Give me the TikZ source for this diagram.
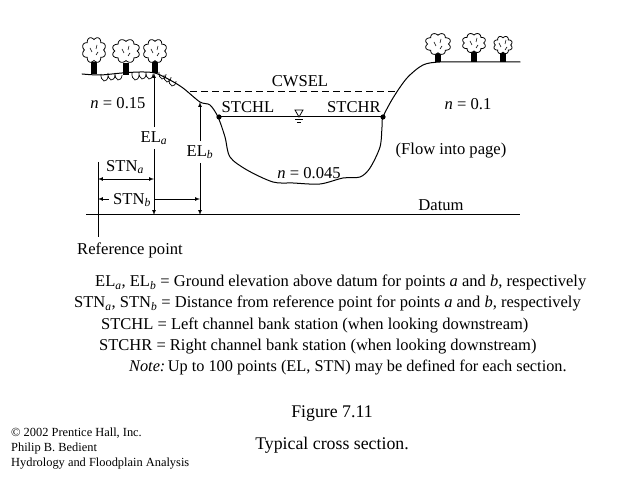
\documentclass[tikz,border=0pt]{standalone}
\usepackage{fontspec}
\setmainfont{Liberation Serif}
\usetikzlibrary{arrows}
\newcommand{\subit}[1]{\textsubscript{\textit{#1}}}
\tikzset{
    ground/.style={draw=black, line width=1pt, line cap=round},
    dimline/.style={draw=black, line width=0.7pt, -latex},
    crown/.style={draw=black, line width=0.8pt, fill=white},
    trunk/.style={fill=black},
    label/.style={inner sep=0pt, font=\fontsize{16.6}{18}\selectfont},
    dimlabel/.style={label, inner xsep=4pt, inner ysep=4pt},
    eqline/.style={inner sep=0pt, anchor=base west, font=\fontsize{16.5}{18}\selectfont},
    credit/.style={inner sep=0pt, anchor=base west, font=\fontsize{12.4}{14}\selectfont},
    caption/.style={inner sep=0pt, font=\fontsize{17.8}{20}\selectfont},
}
\begin{document}
\begin{tikzpicture}[x=1pt, y=-1pt]
	\useasboundingbox (0,0) rectangle (638,478);
	% ground line
	\draw[ground] plot[smooth, tension=.5] coordinates {(82,74) (100,75) (122,73) (140,72) (155,73)
		(170,80) (183,88) (200,102) (210,105) (218,117) (225,137) (230,157) (247,170) (273,182)
		(293,183) (320,184) (343,178) (360,177) (370,168) (380,147) (382,127) (383,117) (393,98)
		(407,78) (423,65) (440,62) (473,62) (520,62)};
	% trees on both banks
	\foreach \x/\y/\w/\h/\t/\l in {94/50/12/13/62/12, 126/51/14/12/63/12, 155/51/12/12/61/12, 438/44/13/11/53/9, 474/43/12/10/51/11, 503/45/9.5/9/52/10}{
		\fill[trunk] (\x-3,\t) rectangle (\x+3,\t+\l);
		\draw[crown] plot[domain=0:360, samples=145, variable=\a]
			({\x+\w*(.8+.2*abs(sin(4*\a)))*cos(\a)},{\y+\h*(.8+.2*abs(sin(4*\a)))*sin(\a)}) -- cycle;
		\draw[line width=.6pt] (\x-4,\y-2) -- (\x-2,\y+2) (\x+3,\y-5) -- (\x+2,\y-1) (\x+4,\y+2) -- (\x+2,\y+5);
	}
	% bushes under the left trees
	\foreach \x/\y in {101/74, 108/73, 115/73, 132/73, 139/72, 146/72, 159/72, 164/75, 169/79}{
		\draw[line width=.7pt] (\x,\y) arc (190:10:3.6 and 6);
	}
	% water levels
	\coordinate (cwl) at (190,91);
	\coordinate (cwr) at (398,91);
	\coordinate (bankl) at (219,117);
	\coordinate (bankr) at (383,117);
	\draw[line width=.9pt, dash pattern=on 7pt off 4pt] (cwl) -- (cwr);
	\draw[line width=1pt] (bankl) -- (bankr);
	\fill (bankl) circle (2.6);
	\fill (bankr) circle (2.6);
	\draw[line width=.8pt, fill=white] (295,110) -- (303,110) -- (299,117) -- cycle;
	\draw[line width=.8pt] (295,119.5) -- (303,119.5) (297,122) -- (301,122);
	% datum and reference point
	\coordinate (datl) at (86,215);
	\coordinate (datr) at (520,215);
	\coordinate (reftop) at (98,162);
	\coordinate (refbot) at (98,237);
	\draw[line width=1pt] (datl) -- (datr);
	\draw[line width=.8pt] (reftop) -- (refbot);
	% labels
	\node[label] (cwsel) at (300,81) {CWSEL};
	\node[label] (stchl) at (248,107) {STCHL};
	\node[label] (stchr) at (354,107) {STCHR};
	\node[label] (nleft) at (118,103) {\textit{n} = 0.15};
	\node[label] (nright) at (468,104) {\textit{n} = 0.1};
	\node[label] (nmid) at (309,173) {\textit{n} = 0.045};
	\node[dimlabel] (ela) at (154,138) {EL\subit{a}};
	\node[dimlabel] (elb) at (200,152) {EL\subit{b}};
	\node[label] (stna) at (125,167) {STN\subit{a}};
	\node[dimlabel] (stnb) at (132,200) {STN\subit{b}};
	\node[label] (flow) at (451,151) {(Flow into page)};
	\node[label] (datum) at (441,205) {Datum};
	\node[label] (refpoint) at (130,250) {Reference point};
	% dimension arrows
	\coordinate (atop) at (154,73);
	\coordinate (abot) at (154,215);
	\coordinate (btop) at (200,102);
	\coordinate (bbot) at (200,215);
	\coordinate (sa) at (98,179);
	\coordinate (ea) at (154,179);
	\coordinate (sb) at (98,199);
	\coordinate (eb) at (200,199);
	\draw[dimline] (ela) -- (atop);
	\draw[dimline] (ela) -- (abot);
	\draw[dimline] (elb) -- (btop);
	\draw[dimline] (elb) -- (bbot);
	\draw[dimline, latex-latex] (sa) -- (ea);
	\draw[dimline] (stnb.west |- sb) -- (sb);
	\draw[dimline] (stnb.east |- eb) -- (eb);
	% definitions
	\node[eqline] (eqa) at (95,287) {EL\subit{a}, EL\subit{b} = Ground elevation above datum for points \textit{a} and \textit{b}, respectively};
	\node[eqline] (eqb) at (74,308) {STN\subit{a}, STN\subit{b} = Distance from reference point for points \textit{a} and \textit{b}, respectively};
	\node[eqline] (eqc) at (101,330) {STCHL = Left channel bank station (when looking downstream)};
	\node[eqline] (eqd) at (99,351) {STCHR = Right channel bank station (when looking downstream)};
	\node[eqline, font=\fontsize{16.3}{18}\selectfont] (eqe) at (129,372) {\textit{Note:}\hspace{-3pt} Up to 100 points (EL, STN) may be defined for each section.};
	% caption
	\node[caption] (fig) at (332,414) {Figure 7.11};
	\node[caption] (title) at (332,445) {Typical cross section.};
	\node[credit] (cra) at (11,437) {© 2002 Prentice Hall, Inc.};
	\node[credit] (crb) at (11,452) {Philip B. Bedient};
	\node[credit] (crc) at (11,467) {Hydrology and Floodplain Analysis};
\end{tikzpicture}
\end{document}
